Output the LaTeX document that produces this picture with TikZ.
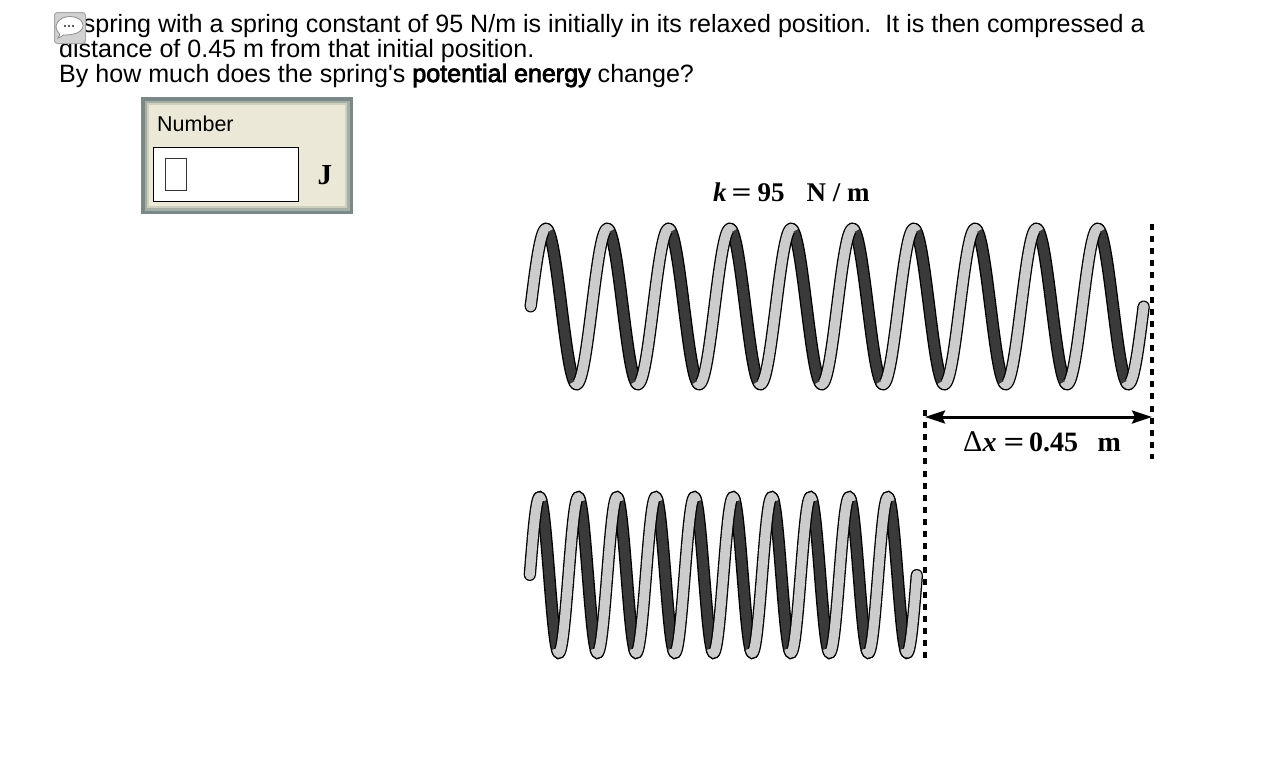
\documentclass[tikz,border=0pt]{standalone}
\usepackage{fontspec}
\setmainfont{Liberation Sans}
\newfontfamily\plainf{Liberation Sans}
\newfontfamily\serifb{Liberation Serif}
\newfontfamily\fakeb[FakeBold=3]{Liberation Sans}
\usetikzlibrary{arrows.meta}
\definecolor{coilL}{HTML}{CCCCCC}
\definecolor{coilD}{HTML}{3A3A3A}
\definecolor{panel}{HTML}{EBE8D8}
\definecolor{rimA}{RGB}{122,136,136}
\definecolor{rimB}{RGB}{165,175,165}
\definecolor{rimC}{RGB}{205,208,190}
\tikzset{
  qtext/.style={anchor=base west,inner sep=0pt,font=\plainf\fontsize{25.07}{25}\selectfont},
  lbl/.style={anchor=base west,inner sep=0pt,font=\fontsize{21.5}{21.5}\selectfont},
  srf/.style={anchor=base west,inner sep=0pt,font=\serifb\bfseries\fontsize{27}{27}\selectfont},
  guide/.style={line width=3.2pt,dash pattern=on 6pt off 6.1pt},
  dimline/.style={line width=3pt,{Stealth[length=20pt,width=13pt,inset=3pt]}-{Stealth[length=20pt,width=13pt,inset=3pt]}}
}
\newcommand{\wideeq}{\scalebox{1.3}[1]{=}}
% #1 first peak x, #2 period, #3 last peak x, #4 mid y, #5 amplitude, #6 overlap
\newcommand{\coil}[6]{%
  \pgfmathsetmacro{\halfP}{#2/2}
  \pgfmathsetmacro{\quartP}{#2/4}
  \pgfmathsetmacro{\kk}{360/#2}
  \pgfmathsetmacro{\startX}{#1-\quartP}
  \pgfmathsetmacro{\startY}{#4}
  \pgfmathsetmacro{\endX}{#3+\halfP+\quartP}
  \pgfmathsetmacro{\endY}{#4}
  \fill[black] (\startX,\startY) circle (6);
  \fill[black] (\endX,\endY) circle (6);
  \foreach \p in {0,...,9}{
    \pgfmathsetmacro{\xa}{#1+\p*#2-1}
    \pgfmathsetmacro{\xb}{#1+\p*#2+\halfP+1}
    \draw[black,line width=12.4pt] plot[domain=\xa:\xb,samples=40] (\x,{#4-#5*cos(\kk*(\x-#1))});
    \draw[coilD,line width=9.8pt] plot[domain=\xa:\xb,samples=40] (\x,{#4-#5*cos(\kk*(\x-#1))});
  }
  \foreach \p in {0,...,10}{
    \pgfmathsetmacro{\xa}{\p==0 ? \startX : #1+\p*#2-\halfP-#6}
    \pgfmathsetmacro{\xb}{\p==10 ? \endX : #1+\p*#2+#6}
    \draw[black,line width=12.4pt] plot[domain=\xa:\xb,samples=50] (\x,{#4-#5*cos(\kk*(\x-#1))});
    \draw[coilL,line width=9.8pt] plot[domain=\xa:\xb,samples=50] (\x,{#4-#5*cos(\kk*(\x-#1))});
  }
  \fill[coilL] (\startX,\startY) circle (4.9);
  \fill[coilL] (\endX,\endY) circle (4.9);
}
\begin{document}
\begin{tikzpicture}[x=1pt,y=-1pt]
\useasboundingbox (0,0) rectangle (1272,782);
% question text
\node[qtext] (q1) at (59,32) {A spring with a spring constant of 95 N/m is initially in its relaxed position.\ \ It is then compressed a};
\node[qtext] (q2) at (59,57) {distance of 0.45 m from that initial position.};
\node[qtext] (q3) at (59,82) {By how much does the spring's {\fakeb potential energy} change?};
% comment icon
\draw[fill=black!18,draw=black!35,line width=1pt,rounded corners=3pt] (54.5,12.5) rectangle (85.5,43.5);
\fill[white,draw=black!45,line width=.8pt] (58,38) .. controls (60,35) and (60,34) .. (59,33) .. controls (52,27) and (58,16.5) .. (70,16.5) .. controls (83,16.5) and (88,28) .. (77,33) .. controls (72,35) and (66,35) .. (63,35) .. controls (62,36) and (60,38) .. (58,38) -- cycle;
\foreach \d in {65,69,73} \fill[black!85] (\d,26) circle (1.1);
% answer panel
\fill[rimA] (141,97) rectangle (353,214);
\fill[rimB] (144.5,100.5) rectangle (349.5,210.5);
\fill[rimC] (147,103) rectangle (347,208);
\fill[panel] (149,105) rectangle (345,206);
\node[lbl] (num) at (157,131) {Number};
\draw[fill=white,draw=black,line width=1pt] (153.5,147.5) rectangle (298,201);
\draw[fill=white,draw=black!80,line width=1pt] (165.5,158.5) rectangle (186.5,190);
\node[srf,font=\serifb\bfseries\fontsize{29}{29}\selectfont] (unit) at (317.5,184.5) {J};
% labels
\node[srf] (kl) at (713,201.5) {\itshape k\upshape\hspace{5pt}\wideeq\hspace{6pt}95\hspace{22pt}N / m};
\node[srf,font=\serifb\bfseries\fontsize{28}{28}\selectfont] (dl) at (963,451) {{\mdseries\fontsize{30}{30}\selectfont\char"0394}{\itshape x}\hspace{7pt}\wideeq\hspace{5pt}0.45\hspace{19.5pt}m};
% springs
\coil{546}{61.3}{1097.7}{306.5}{77.5}{2.5}
\coil{539.5}{38.7}{887.8}{575}{77.5}{2}
% guides and dimension
\coordinate (g1a) at (1152,224);
\coordinate (g1b) at (1152,459);
\coordinate (g2a) at (925,410);
\coordinate (g2b) at (925,658);
\draw[guide] (g1a) -- (g1b);
\draw[guide] (g2a) -- (g2b);
\coordinate (da) at (925,417);
\coordinate (db) at (1152,417);
\draw[dimline] (da) -- (db);
\end{tikzpicture}
\end{document}
